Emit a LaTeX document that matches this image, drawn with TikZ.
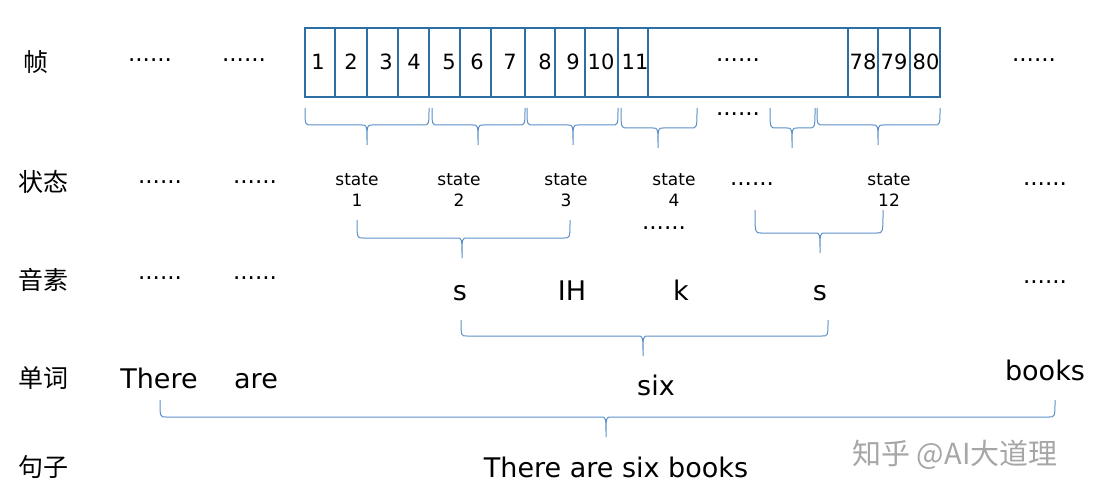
\documentclass[tikz,border=0pt]{standalone}
\usepackage{fontspec}
\setmainfont{DejaVu Sans}
\newfontfamily\cjk{Noto Sans CJK SC}
\definecolor{boxc}{HTML}{2E6FA3}
\definecolor{brc}{HTML}{5B90C8}
\newcommand{\mybrace}[5]{% x1 x2 mid top bottom
  \draw[brc,line width=1pt] (#1,#4) .. controls (#1,#5) .. (#1+6,#5) -- (#3-5,#5) .. controls (#3,#5) .. (#3,#5+20)
    (#2,#4) .. controls (#2,#5) .. (#2-6,#5) -- (#3+5,#5) .. controls (#3,#5) .. (#3,#5+20);}
\begin{document}
\begin{tikzpicture}[x=1pt,y=-1pt,
  lab/.style={font=\cjk\fontsize{25}{27}\selectfont},
  num/.style={font=\fontsize{21}{23}\selectfont,inner sep=0pt},
  st/.style={font=\fontsize{17}{21}\selectfont,align=center},
  big/.style={font=\fontsize{27}{30}\selectfont,anchor=base},
  dots/.style={font=\fontsize{23}{25}\selectfont}]
\useasboundingbox (0,0) rectangle (1100,500);
% frames
\draw[boxc,line width=1.5pt] (305,28) rectangle (940,97);
\foreach \x in {335,367,398,429,460,491,525,555,585,618,648,848,878,910}
  \draw[boxc,line width=1.5pt] (\x,28) -- (\x,97);
\foreach \n/\x in {1/318,2/351,3/386,4/414,5/449,6/477,7/510,8/545,9/573,10/601,11/635,78/863,79/894,80/926}
  \node[num] (f\n) at (\x,62) {\n};
\node[dots] (fd) at (738,60) {......};
% labels
\node[lab] (l1) at (36,62) {帧};
\node[lab] (l2) at (43,182) {状态};
\node[lab] (l3) at (43,280) {音素};
\node[lab] (l4) at (43,378) {单词};
\node[lab] (l5) at (43,467) {句子};
% dots
\node[dots] (d1) at (150,60) {......};
\node[dots] (d2) at (244,60) {......};
\node[dots] (d3) at (1034,60) {......};
\node[dots] (d4) at (738,114) {......};
\node[dots] (d5) at (160,182) {......};
\node[dots] (d6) at (255,182) {......};
\node[dots] (d7) at (752,184) {......};
\node[dots] (d8) at (1045,184) {......};
\node[dots] (d9) at (664,228) {......};
\node[dots] (d10) at (160,278) {......};
\node[dots] (d11) at (255,278) {......};
\node[dots] (d12) at (1045,282) {......};
% frame braces
\mybrace{305}{429}{367}{108}{125}
\mybrace{432}{525}{478}{108}{125}
\mybrace{527}{618}{573}{108}{125}
\mybrace{621}{697}{658}{108}{128}
\mybrace{770}{815}{792}{108}{128}
\mybrace{817}{940}{878}{108}{125}
% states
\node[st] (s1) at (357,190) {state\\1};
\node[st] (s2) at (459,190) {state\\2};
\node[st] (s3) at (566,190) {state\\3};
\node[st] (s4) at (674,190) {state\\4};
\node[st] (s12) at (889,190) {state\\12};
\mybrace{357}{570}{462}{220}{238}
\mybrace{755}{883}{820}{210}{233}
% phonemes
\node[big] (p1) at (460,300) {s};
\node[big] (p2) at (572,300) {IH};
\node[big] (p3) at (681,300) {k};
\node[big] (p4) at (820,300) {s};
\mybrace{461}{828}{643}{320}{336}
% words
\node[big] (w1) at (159,388) {There};
\node[big] (w2) at (256,388) {are};
\node[big] (w3) at (656,395) {six};
\node[big] (w4) at (1045,380) {books};
\mybrace{160}{1055}{606}{400}{417}
\node[big] (sent) at (616,477) {There are six books};
\node[font=\cjk\fontsize{29}{31}\selectfont,text=black!35] (wm) at (955,455) {知乎 @AI大道理};
\end{tikzpicture}
\end{document}
